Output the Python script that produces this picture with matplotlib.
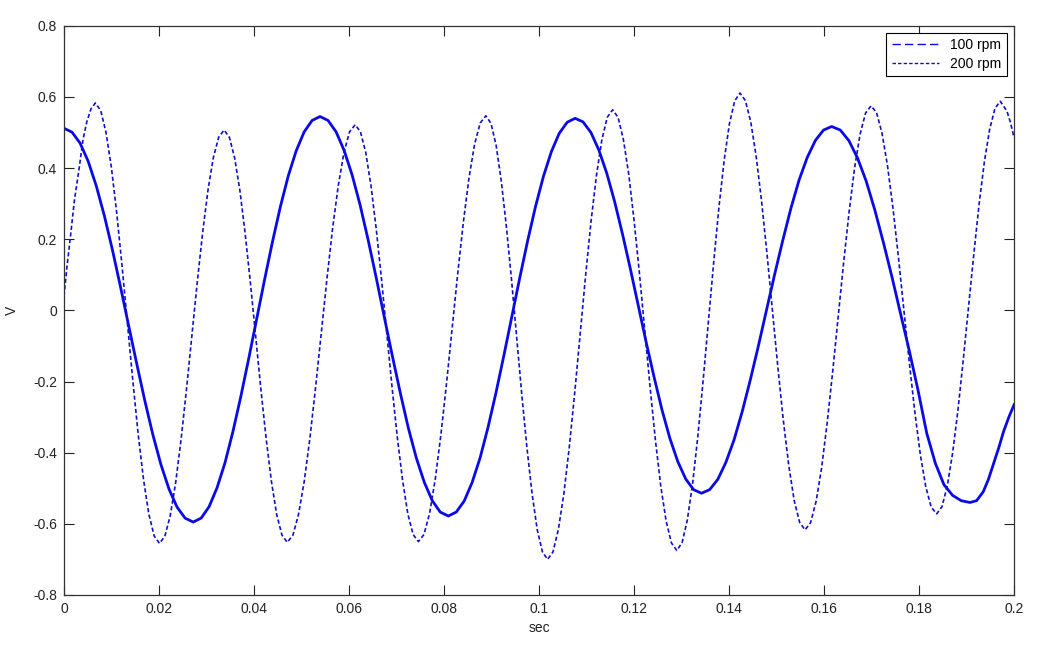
import matplotlib
matplotlib.use('Agg')
import matplotlib.pyplot as plt

plt.rcParams['font.family'] = ['Liberation Sans', 'DejaVu Sans']

# 100 rpm trace (sec, V), one half-swing per row
t100 = [0, 0.0017, 0.0034, 0.0051, 0.0068, 0.0085, 0.0102, 0.0119, 0.0136, 0.0153, 0.0170, 0.0187, 0.0204, 0.0221, 0.0238, 0.0255,
        0.0272, 0.02887, 0.03054, 0.03221, 0.03388, 0.03554, 0.03721, 0.03888, 0.04055, 0.04222, 0.04389, 0.04556, 0.04723, 0.04889, 0.05056, 0.05223,
        0.0539, 0.05559, 0.05728, 0.05896, 0.06065, 0.06234, 0.06403, 0.06571, 0.0674, 0.06909, 0.07078, 0.07246, 0.07415, 0.07584, 0.07753, 0.07921,
        0.0809, 0.08257, 0.08424, 0.08591, 0.08758, 0.08924, 0.09091, 0.09258, 0.09425, 0.09592, 0.09759, 0.09926, 0.10093, 0.10259, 0.10426, 0.10593,
        0.1076, 0.10926, 0.11093, 0.11259, 0.11425, 0.11591, 0.11758, 0.11924, 0.1209, 0.12256, 0.12423, 0.12589, 0.12755, 0.12921, 0.13088, 0.13254,
        0.1342, 0.13591, 0.13763, 0.13934, 0.14105, 0.14276, 0.14448, 0.14619, 0.1479, 0.14961, 0.15133, 0.15304, 0.15475, 0.15646, 0.15818, 0.15989,
        0.1616, 0.16342, 0.16524, 0.16706, 0.16888, 0.17069, 0.17251, 0.17433, 0.17615, 0.17797, 0.17979, 0.18161, 0.18343, 0.18524, 0.18706, 0.18888,
        0.1907, 0.1921, 0.1935, 0.1946, 0.1957, 0.1968, 0.1978, 0.1989, 0.2]
v100 = [0.512, 0.501, 0.470, 0.419, 0.350, 0.266, 0.170, 0.066, -0.042, -0.149, -0.253, -0.349, -0.433, -0.502, -0.553, -0.584,
        -0.595, -0.584, -0.552, -0.499, -0.429, -0.342, -0.243, -0.136, -0.025, 0.086, 0.193, 0.292, 0.379, 0.449, 0.502, 0.534,
        0.545, 0.534, 0.502, 0.450, 0.381, 0.296, 0.198, 0.093, -0.017, -0.126, -0.231, -0.329, -0.414, -0.483, -0.535, -0.567,
        -0.578, -0.567, -0.536, -0.484, -0.415, -0.330, -0.233, -0.128, -0.019, 0.090, 0.195, 0.292, 0.377, 0.446, 0.498, 0.529,
        0.540, 0.530, 0.500, 0.451, 0.386, 0.306, 0.214, 0.116, 0.013, -0.090, -0.188, -0.280, -0.360, -0.425, -0.474, -0.504,
        -0.514, -0.504, -0.475, -0.427, -0.364, -0.285, -0.195, -0.099, 0.002, 0.102, 0.198, 0.288, 0.367, 0.430, 0.478, 0.507,
        0.517, 0.507, 0.477, 0.428, 0.363, 0.282, 0.190, 0.092, -0.012, -0.115, -0.225, -0.345, -0.430, -0.490, -0.520, -0.535,
        -0.540, -0.535, -0.510, -0.475, -0.430, -0.385, -0.340, -0.300, -0.265]

# 200 rpm trace
t200 = [0, 0.0006, 0.0013, 0.0022, 0.0032, 0.0040, 0.0048, 0.0057,
        0.0066, 0.00773, 0.00885, 0.00998, 0.0111, 0.01223, 0.01335, 0.01448, 0.0156, 0.01673, 0.01785, 0.01898,
        0.0201, 0.02123, 0.02237, 0.0235, 0.02463, 0.02577, 0.0269, 0.02803, 0.02917, 0.0303, 0.03143, 0.03257,
        0.0337, 0.03481, 0.03592, 0.03703, 0.03813, 0.03924, 0.04035, 0.04146, 0.04257, 0.04368, 0.04478, 0.04589,
        0.0470, 0.04819, 0.04938, 0.05058, 0.05177, 0.05296, 0.05415, 0.05534, 0.05653, 0.05773, 0.05892, 0.06011,
        0.0613, 0.06241, 0.06352, 0.06463, 0.06573, 0.06684, 0.06795, 0.06906, 0.07017, 0.07128, 0.07238, 0.07349,
        0.0746, 0.07578, 0.07697, 0.07815, 0.07933, 0.08052, 0.0817, 0.08288, 0.08407, 0.08525, 0.08643, 0.08762,
        0.0888, 0.08988, 0.09097, 0.09205, 0.09313, 0.09422, 0.0953, 0.09638, 0.09747, 0.09855, 0.09963, 0.10072,
        0.1018, 0.10294, 0.10408, 0.10523, 0.10637, 0.10751, 0.10865, 0.10979, 0.11093, 0.11208, 0.11322, 0.11436,
        0.1155, 0.11663, 0.11775, 0.11888, 0.12, 0.12113, 0.12225, 0.12338, 0.1245, 0.12563, 0.12675, 0.12788,
        0.129, 0.13011, 0.13122, 0.13233, 0.13343, 0.13454, 0.13565, 0.13676, 0.13787, 0.13898, 0.14008, 0.14119,
        0.1423, 0.14344, 0.14458, 0.14573, 0.14687, 0.14801, 0.14915, 0.15029, 0.15143, 0.15258, 0.15372, 0.15486,
        0.156, 0.15716, 0.15832, 0.15948, 0.16063, 0.16179, 0.16295, 0.16411, 0.16527, 0.16643, 0.16758, 0.16874,
        0.1699, 0.17105, 0.1722, 0.17335, 0.1745, 0.17565, 0.1768, 0.17795, 0.1791, 0.18025, 0.1814, 0.18255,
        0.1837, 0.18482, 0.18593, 0.18705, 0.18817, 0.18928, 0.1904, 0.19152, 0.19263, 0.19375, 0.19487, 0.19598,
        0.1971, 0.1985, 0.1992, 0.2]
v200 = [0.04, 0.12, 0.20, 0.31, 0.40, 0.48, 0.53, 0.567,
        0.583, 0.562, 0.500, 0.402, 0.274, 0.124, -0.036, -0.196, -0.346, -0.474, -0.572, -0.634,
        -0.655, -0.635, -0.577, -0.485, -0.365, -0.224, -0.074, 0.076, 0.217, 0.337, 0.429, 0.487,
        0.507, 0.487, 0.429, 0.337, 0.217, 0.078, -0.073, -0.223, -0.362, -0.482, -0.574, -0.632,
        -0.652, -0.632, -0.573, -0.480, -0.359, -0.217, -0.065, 0.087, 0.229, 0.350, 0.443, 0.502,
        0.522, 0.502, 0.444, 0.350, 0.229, 0.088, -0.064, -0.216, -0.357, -0.478, -0.572, -0.630,
        -0.650, -0.630, -0.570, -0.475, -0.351, -0.206, -0.052, 0.103, 0.248, 0.372, 0.467, 0.527,
        0.547, 0.526, 0.464, 0.364, 0.235, 0.085, -0.077, -0.238, -0.388, -0.517, -0.617, -0.679,
        -0.700, -0.679, -0.615, -0.515, -0.384, -0.232, -0.068, 0.096, 0.248, 0.379, 0.479, 0.543,
        0.564, 0.543, 0.481, 0.383, 0.254, 0.105, -0.056, -0.216, -0.365, -0.494, -0.592, -0.654,
        -0.675, -0.653, -0.589, -0.487, -0.354, -0.198, -0.032, 0.134, 0.290, 0.423, 0.525, 0.589,
        0.611, 0.590, 0.529, 0.431, 0.304, 0.156, -0.003, -0.162, -0.310, -0.437, -0.535, -0.596,
        -0.617, -0.597, -0.537, -0.443, -0.319, -0.175, -0.021, 0.133, 0.277, 0.401, 0.495, 0.555,
        0.575, 0.556, 0.498, 0.407, 0.288, 0.150, 0.002, -0.147, -0.285, -0.404, -0.495, -0.553,
        -0.572, -0.552, -0.494, -0.402, -0.282, -0.142, 0.008, 0.158, 0.298, 0.418, 0.510, 0.568,
        0.588, 0.56, 0.53, 0.485]

xticks = [0, 0.02, 0.04, 0.06, 0.08, 0.1, 0.12, 0.14, 0.16, 0.18, 0.2]
xticklabels = ['0', '0.02', '0.04', '0.06', '0.08', '0.1', '0.12', '0.14', '0.16', '0.18', '0.2']
yticks = [-0.8, -0.6, -0.4, -0.2, 0, 0.2, 0.4, 0.6, 0.8]
yticklabels = ['-0.8', '-0.6', '-0.4', '-0.2', '0', '0.2', '0.4', '0.6', '0.8']
labels = ['100 rpm', '200 rpm']

fig = plt.figure(figsize=(10.37, 6.46), dpi=100)
ax = fig.add_axes([0.0617, 0.079, 0.9162, 0.881])

ax.plot(t100, v100, color='#0a0ae6', lw=2.0, label=labels[0])
ax.plot(t200, v200, color='#1010c8', lw=1.2, linestyle=(0, (2.5, 1.5)), label=labels[1])

ax.set_xlim(0, 0.2)
ax.set_ylim(-0.8, 0.8)
ax.set_xticks(xticks)
ax.set_xticklabels(xticklabels)
ax.set_yticks(yticks)
ax.set_yticklabels(yticklabels)
ax.tick_params(direction='in', length=7, width=0.8, top=True, right=True,
               labelsize=10, colors='#222222', pad=5)
for s in ax.spines.values():
    s.set_color('#333333')
    s.set_linewidth(0.9)

ax.set_xlabel('sec', fontsize=10, color='#222222', labelpad=4)
ax.set_ylabel('V', fontsize=10, color='#222222', labelpad=10)

leg = ax.legend(loc='upper right', fontsize=10, frameon=True, fancybox=False,
                edgecolor='black', framealpha=1, handlelength=3.4,
                borderaxespad=0.5, labelspacing=0.3, borderpad=0.4)
leg.get_frame().set_linewidth(0.8)
# legend keys as in the original: long dashes / fine dashes
leg.get_lines()[0].set_linestyle((0, (6, 3)))
leg.get_lines()[0].set_linewidth(1.0)
leg.get_lines()[1].set_linewidth(1.0)

fig.savefig('out.png', dpi=100, facecolor='white')
